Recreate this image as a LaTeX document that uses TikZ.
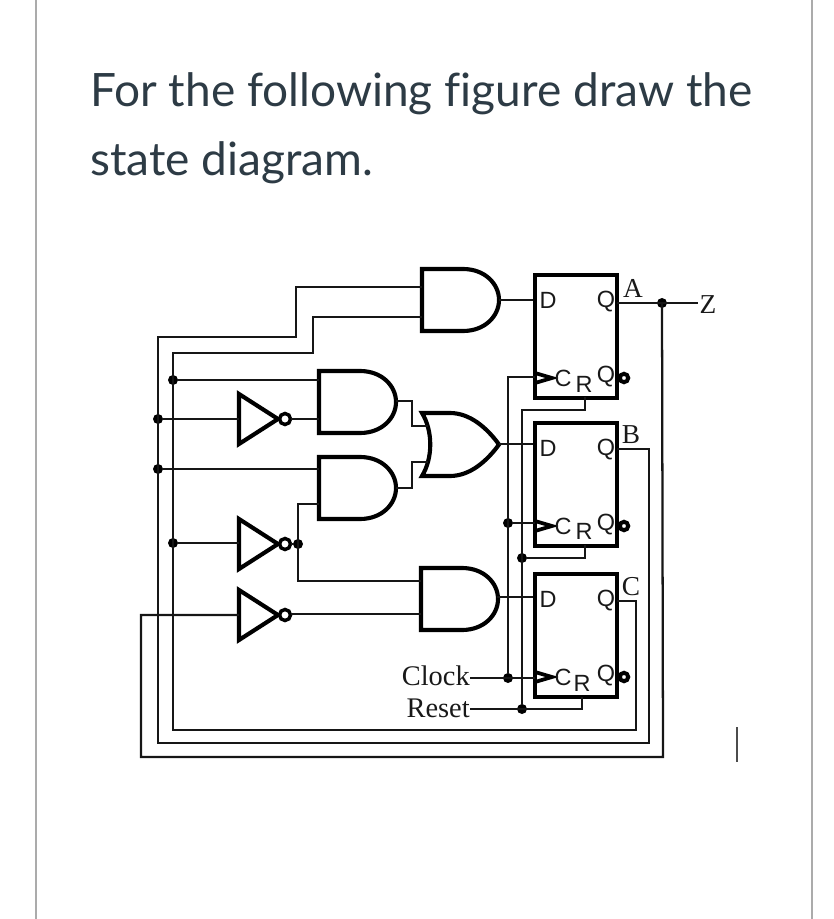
\documentclass[tikz,border=0pt]{standalone}
\usepackage{fontspec}
\setmainfont{Liberation Serif}
\setsansfont{Liberation Sans}
\newfontfamily\headfont[Ligatures=NoCommon]{Lato}
\definecolor{headcol}{HTML}{2D3B45}
\definecolor{wirecol}{HTML}{161616}
\definecolor{bordcol}{HTML}{ABABAB}
\tikzset{
  wire/.style={draw=wirecol,line width=1.7pt,line join=miter},
  gate/.style={draw=black,line width=3.1pt,line join=miter},
  ffbox/.style={draw=black,line width=3.1pt,minimum width=61.5pt,minimum height=92pt,inner sep=0pt,anchor=north west},
  jdot/.style={circle,fill=black,inner sep=0pt,minimum size=7.5pt},
  pinlab/.style={font=\sffamily\fontsize{17.6}{19}\selectfont,inner sep=0pt,text=black!90},
  serlab/.style={font=\rmfamily\fontsize{20.5}{22}\selectfont,inner sep=0pt,text=black!90},
  sigtext/.style={font=\rmfamily\fontsize{21.3}{23}\selectfont,inner sep=0pt,anchor=east,text=black!90},
  head/.style={font=\headfont\fontsize{34.5}{40}\selectfont,text=headcol,inner sep=0pt,anchor=base west},
  andg/.pic={\draw[gate] (0,0) -- (41,0) .. controls (63,0) and (77,15) .. (77,31) .. controls (77,47) and (63,62) .. (41,62) -- (0,62) -- cycle;},
  invg/.pic={\draw[gate] (0,-25) -- (39,0) -- (0,25) -- cycle; \draw[gate,line width=2.6pt] (46,0) circle (5.5);},
  clkg/.pic={\draw[gate,line width=2.8pt] (0,-5) -- (17,0) -- (0,5) -- cycle;},
  qbar/.pic={\draw[gate,line width=3pt] (0,0) circle (4.2);}
}
\begin{document}
\begin{tikzpicture}[x=0.75pt,y=-0.75pt]
\useasboundingbox (0,0) rectangle (833,919);
% page borders and caret
\coordinate (lt) at (36,0); \coordinate (lb) at (36,919);
\coordinate (rt) at (812,0); \coordinate (rb) at (812,919);
\coordinate (ct) at (737,727); \coordinate (cb) at (737,762);
\draw[bordcol,line width=1.5pt] (lt) -- (lb);
\draw[bordcol,line width=1.5pt] (rt) -- (rb);
\draw[black!70,line width=0.9pt] (ct) -- (cb);
% heading
\node[head] (h1) at (90,107) {For the following figure draw the};
\node[head] (h2) at (90,176) {state diagram.};
% gates
\pic at (422,269) {andg};
\pic at (319,371) {andg};
\pic at (319,457) {andg};
\pic at (421,568) {andg};
\draw[gate] (422,413) -- (450,413) .. controls (470,413) and (487,428) .. (499,444.5) .. controls (487,461) and (470,476) .. (450,476) -- (422,476) .. controls (433,458) and (433,431) .. (422,413) -- cycle;
\pic at (239,419) {invg};
\pic at (239,544) {invg};
\pic at (239,615) {invg};
% flip-flops
\node[ffbox] (ffa) at (533,273) {};
\node[ffbox] (ffb) at (533,421) {};
\node[ffbox] (ffc) at (533,572) {};
\pic at (535,378) {clkg};
\pic at (535,526) {clkg};
\pic at (535,677) {clkg};
\pic at (624,378) {qbar};
\pic at (624,526) {qbar};
\pic at (624,677) {qbar};
% pin labels
\foreach \nm/\dy/\qy/\cy/\ry/\qby/\rx in {a/300/302/378/384/377/584,b/448/450/526/531/525/584,c/599/601/677/683/676/582}{
  \node[pinlab] (d\nm) at (548,\dy) {D};
  \node[pinlab] (q\nm) at (606,\qy) {Q};
  \node[pinlab] (c\nm) at (563,\cy) {C};
  \node[pinlab] (r\nm) at (\rx,\ry) {R};
  \node[pinlab] (qb\nm) at (606,\qby) {Q};
}
\node[serlab] (la) at (633,288) {A};
\node[serlab] (lb2) at (631,435) {B};
\node[serlab] (lc) at (631,587) {C};
\node[serlab] (lz) at (708,305) {Z};
\node[sigtext] (clk) at (470,676) {Clock};
\node[sigtext] (rst) at (470,708) {Reset};
% junctions
\node[jdot] (j1) at (173,380) {};
\node[jdot] (j2) at (158,419) {};
\node[jdot] (j3) at (158,469) {};
\node[jdot] (j4) at (173,543) {};
\node[jdot] (j5) at (298,544) {};
\node[jdot] (j6) at (662,303) {};
\node[jdot] (j7) at (508,523) {};
\node[jdot] (j8) at (508,678) {};
\node[jdot] (j9) at (522,558) {};
\node[jdot] (j10) at (522,709) {};
% wires: gates to flip-flops
\coordinate (a1o) at (499,300);
\draw[wire] (a1o) -- (ffa.west |- a1o);
\coordinate (oro) at (499,444);
\draw[wire] (oro) -- (ffb.west |- oro);
\coordinate (a4o) at (497,597);
\draw[wire] (a4o) -- (ffc.west |- a4o);
% wires: and outputs to or
\coordinate (a2o) at (396,401); \coordinate (a3o) at (396,488);
\draw[wire] (a2o) -- (412,401) -- (412,426) -- (428,426);
\draw[wire] (a3o) -- (412,488) -- (412,462) -- (428,462);
% feedback lines
\draw[wire] (422,287) -- (296,287) -- (296,337) -- (158,337) -- (158,743) -- (649,743) -- (649,449) -- (617,449);
\draw[wire] (422,317) -- (313,317) -- (313,353) -- (173,353) -- (173,730) -- (636,730) -- (636,601) -- (617,601);
\draw[wire] (239,615) -- (141,615) -- (141,757) -- (663,757) -- (j6.center);
\coordinate (qao) at (617,303); \coordinate (zin) at (698,303);
\draw[wire] (qao) -- (zin);
% inputs of gates
\draw[wire] (j1) -- (319,380);
\draw[wire] (j2) -- (239,419);
\draw[wire] (290.5,419) -- (319,419);
\draw[wire] (j3) -- (319,469);
\draw[wire] (j4) -- (239,543);
\draw[wire] (290.5,544) -- (j5);
\draw[wire] (319,504) -- (298,504) -- (298,581) -- (421,581);
\draw[wire] (290.5,614) -- (421,614);
% clock
\draw[wire] (clk.east |- j8) -- (535,678);
\draw[wire] (j8) -- (508,377) -- (535,377);
\draw[wire] (j7) -- (535,523);
% reset
\draw[wire] (rst.east |- j10) -- (582,709) -- (582,697);
\draw[wire] (j10) -- (522,410) -- (585,410) -- (585,397);
\draw[wire] (j9) -- (585,558) -- (585,545);
\end{tikzpicture}
\end{document}
